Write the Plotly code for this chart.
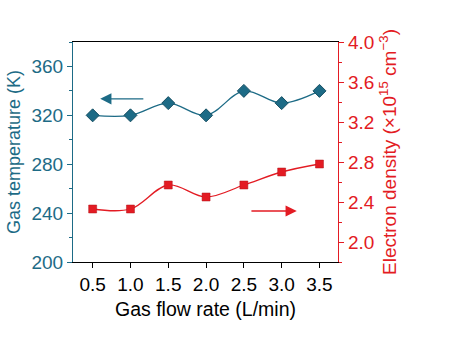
import plotly.graph_objects as go

flow_rate = [0.5, 1.0, 1.5, 2.0, 2.5, 3.0, 3.5]
gas_temperature = [320, 320, 330, 320, 340, 330, 340]
electron_density = [2.33, 2.33, 2.57, 2.45, 2.57, 2.70, 2.78]

TEAL = "#1d6b86"
RED = "#e31b23"
FONT = "Liberation Sans, Arial, sans-serif"

fig = go.Figure()
fig.add_trace(go.Scatter(
    x=flow_rate, y=gas_temperature, mode="lines+markers",
    line=dict(color=TEAL, width=1.3, shape="spline", smoothing=1.0),
    marker=dict(symbol="diamond", size=10, color=TEAL, line=dict(color="#174f63", width=1)),
    yaxis="y", showlegend=False))
fig.add_trace(go.Scatter(
    x=flow_rate, y=electron_density, mode="lines+markers",
    line=dict(color=RED, width=1.3, shape="spline", smoothing=1.0),
    marker=dict(symbol="square", size=8, color=RED, line=dict(color="#b0141a", width=0.5)),
    yaxis="y2", showlegend=False))

# direction arrows
fig.add_annotation(x=0.6, y=333.5, ax=1.19, ay=333.5, xref="x", yref="y", axref="x", ayref="y",
                   text="", showarrow=True, arrowhead=2, arrowsize=1.6, arrowwidth=1.4,
                   arrowcolor=TEAL)
fig.add_annotation(x=3.2, y=2.31, ax=2.58, ay=2.31, xref="x", yref="y2", axref="x", ayref="y2",
                   text="", showarrow=True, arrowhead=2, arrowsize=1.6, arrowwidth=1.4,
                   arrowcolor=RED)

fig.update_layout(
    width=474, height=337,
    margin=dict(l=73, r=136, t=42, b=75),
    paper_bgcolor="white", plot_bgcolor="white",
    font=dict(family=FONT, size=18),
    xaxis=dict(
        range=[0.24, 3.745], tickvals=flow_rate, ticktext=["0.5", "1.0", "1.5", "2.0", "2.5", "3.0", "3.5"],
        showgrid=False, zeroline=False, showline=True, linecolor="black", linewidth=1.2,
        mirror=True, ticks="outside", ticklen=5, tickcolor="black",
        tickfont=dict(size=19, color="black"),
        title=dict(text="Gas flow rate (L/min)", font=dict(size=19.5, color="black"), standoff=8)),
    yaxis=dict(
        range=[200, 380], tickvals=[200, 240, 280, 320, 360],
        showgrid=False, zeroline=False, showline=True, linecolor=TEAL, linewidth=1.2,
        ticks="outside", ticklen=5, tickcolor=TEAL,
        minor=dict(ticks="outside", ticklen=3, tickcolor=TEAL, dtick=20, tick0=200),
        tickfont=dict(size=19, color=TEAL),
        title=dict(text="Gas temperature (K)", font=dict(size=18, color=TEAL), standoff=6)),
    yaxis2=dict(
        range=[1.8, 4.0], tickvals=[2.0, 2.4, 2.8, 3.2, 3.6, 4.0],
        ticktext=["2.0", "2.4", "2.8", "3.2", "3.6", "4.0"],
        overlaying="y", side="right", anchor="x",
        showgrid=False, zeroline=False, showline=True, linecolor=RED, linewidth=1.2,
        ticks="outside", ticklen=5, tickcolor=RED,
        minor=dict(ticks="outside", ticklen=3, tickcolor=RED, dtick=0.2, tick0=1.8),
        tickfont=dict(size=19, color=RED),
        title=dict(text="Electron density (×10<sup>15</sup> cm<sup>−3</sup>)",
                   font=dict(size=19, color=RED), standoff=8)),
)

fig.write_html("out.html")
